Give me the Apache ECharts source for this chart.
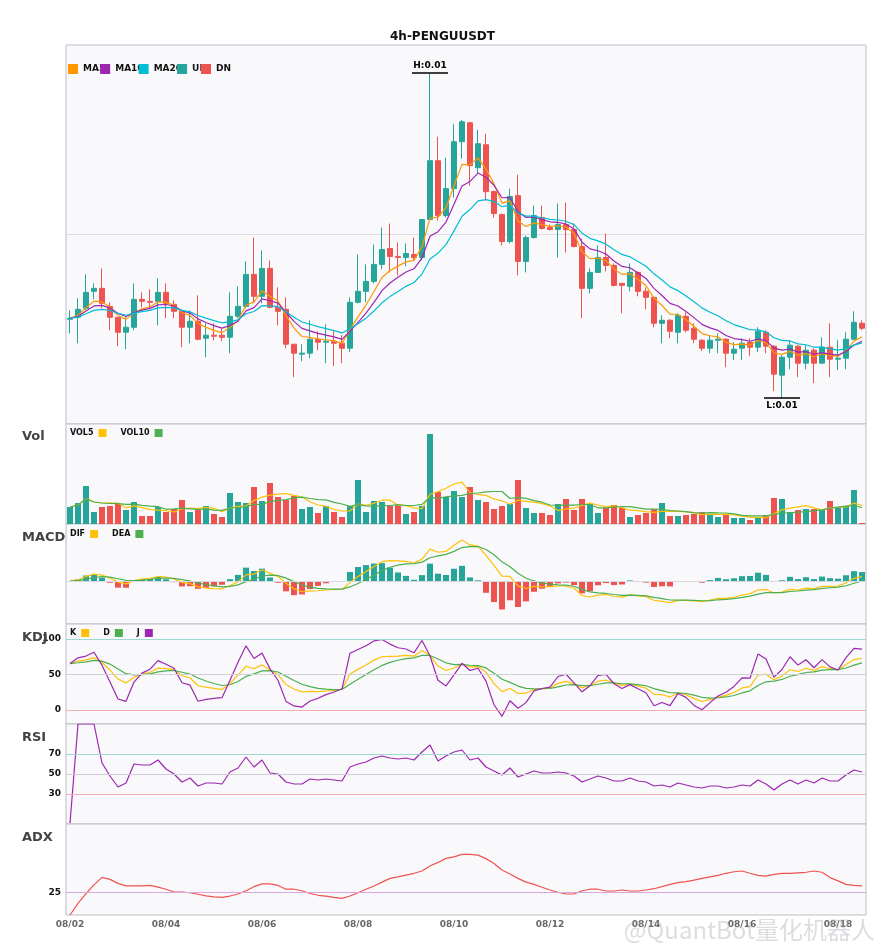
<!DOCTYPE html>
<html>
<head>
<meta charset="utf-8">
<script src="https://cdn.jsdelivr.net/npm/echarts@6/dist/echarts.min.js"></script>
<style>
  html, body { margin: 0; padding: 0; background: #fff; }
  #main { width: 885px; height: 950px; }
</style>
</head>
<body>
<div id="main"></div>
<script>
/* 4h PENGUUSDT — candles + Vol / MACD / KDJ / RSI / ADX panels */
var opens = [105,107,116,133,136,118,107,92,97,125, 123,123,132,120,113,97,103,86,89,89,
  87,108,118,150,128,156,117,115,80,70, 71,85,82,83,81,76,122,133,143,160,
  176,168,167,170,167,205,264,209,236,283, 302,257,280,233,210,183,229,163,187,207,
  197,195,200,195,178,136,152,167,159,141, 138,152,133,127,101,104,92,108,96,84,
  76,84,85,71,76,82,77,92,78,49, 67,78,61,74,61,77,65,66,85,101];
var closes = [106,115,132,136,121,107,92,97,125,123, 122,132,121,113,97,103,85,89,88,87,
  108,118,150,128,156,117,113,80,71,71, 85,82,83,81,76,122,133,143,160,175,
  168,167,171,167,205,264,209,236,283,303, 259,281,233,211,183,228,163,187,209,196,
  195,200,195,178,136,152,167,159,139,139, 152,133,127,101,104,93,109,94,85,76,
  84,85,71,75,81,77,93,78,50,67, 79,61,74,61,77,65,66,85,102,96];
var highs = [114,126,150,141,156,122,107,107,141,132, 135,146,141,124,114,114,129,101,101,96,
  132,138,163,187,174,164,137,127,80,80, 104,93,100,93,89,127,170,160,180,197,
  201,182,181,187,205,352,288,267,301,305, 303,295,291,234,211,236,250,189,219,219,
  200,221,222,201,186,156,179,191,161,141, 161,153,137,128,109,105,111,112,101,85,
  89,91,86,82,86,86,97,94,79,69, 84,79,79,76,87,101,84,92,113,104];
var lows = [91,81,114,125,116,94,78,75,94,117, 115,99,106,106,77,81,84,67,84,83,
  71,106,116,121,121,116,99,76,47,63, 66,74,61,58,61,72,121,122,141,155,
  152,149,158,164,164,204,204,207,227,266, 239,251,224,207,179,181,149,152,186,195,
  194,167,172,177,106,131,152,153,138,111, 133,128,115,97,81,86,81,92,81,73,
  71,71,57,64,64,68,72,71,33,26, 55,47,55,41,61,47,54,55,84,94];
var volumes = [17,21,38,12,17,18,20,14,22,8, 8,17,12,15,24,12,14,18,10,7,
  31,22,21,37,23,41,27,24,28,15, 17,11,18,12,7,18,44,12,23,22,
  18,19,10,12,18,90,32,27,33,27, 37,24,22,15,18,20,44,16,11,11,
  9,20,25,14,25,20,11,16,19,16, 7,9,11,15,21,8,8,9,10,12,
  10,7,10,6,6,4,7,9,26,25, 12,14,15,15,14,23,16,18,34,1];
var rsi = [1,100,100,100,61,48,37,41,60,59, 59,64,55,50,42,46,38,41,41,40,
  52,56,67,57,64,51,50,42,40,40, 45,44,45,44,43,57,60,62,66,68,
  66,65,66,64,72,79,63,68,72,74, 64,66,57,53,49,56,47,50,53,51,
  51,52,51,48,42,45,48,46,43,43, 46,43,42,38,39,37,41,39,37,36,
  38,38,36,37,39,38,44,40,34,40, 44,40,44,41,46,43,43,49,54,52];
var adx = [16,20.6,24.5,27.9,30.9,30.1,28.5,27.5,27.5,27.5, 27.7,27,26.2,25.1,25.1,24.8,24.2,23.6,23.2,23,
  23.5,24.3,25.6,27.2,28.3,28.3,27.7,26.2,26.2,25.6, 24.5,23.8,23.5,23,22.6,23.5,24.8,26.2,27.5,29,
  30.5,31.1,31.8,32.5,33.4,35.4,36.8,38.4,39,40, 40,39.7,38.3,36.4,33.8,32.2,30.5,29,28.1,27,
  25.9,25,24.3,24.3,25.6,26.2,26.2,25.5,25.5,25.9, 25.5,25.5,25.9,26.4,27.2,28.1,28.8,29.2,29.8,30.5,
  31.1,31.7,32.5,33.1,33.4,32.5,31.7,31.4,32.1,32.5, 32.5,32.7,32.9,33.4,32.9,30.8,29.5,28.1,27.7,27.5];

var UP = '#26a69a', DN = '#ef5350';
var FONT = 'DejaVu Sans';

// 4h bars starting 2025-08-02 00:00
var dates = [];
for (var i = 0; i < closes.length; i++) {
  var d = new Date(Date.UTC(2025, 7, 2, i * 4));
  dates.push(('0' + (d.getUTCMonth() + 1)).slice(-2) + '/' + ('0' + d.getUTCDate()).slice(-2) + ' ' + ('0' + d.getUTCHours()).slice(-2) + ':00');
}

function ma(arr, n) {
  return arr.map(function (v, i) {
    var s = 0, c = 0;
    for (var j = Math.max(0, i - n + 1); j <= i; j++) { s += arr[j]; c++; }
    return +(s / c).toFixed(2);
  });
}
function ema(arr, n) {
  var k = 2 / (n + 1), out = [], prev = arr[0];
  arr.forEach(function (v, i) { prev = i === 0 ? v : v * k + prev * (1 - k); out.push(prev); });
  return out;
}

var dif = (function () { var a = ema(closes, 6), b = ema(closes, 13); return a.map(function (v, i) { return v - b[i]; }); })();
var dea = ema(dif, 5);
var hist = dif.map(function (v, i) { return 2 * (v - dea[i]); });

var K = [], D = [], J = [];
closes.forEach(function (c, i) {
  var hh = -Infinity, ll = Infinity;
  for (var j = Math.max(0, i - 8); j <= i; j++) { hh = Math.max(hh, highs[j]); ll = Math.min(ll, lows[j]); }
  var rsv = hh === ll ? 50 : (c - ll) / (hh - ll) * 100;
  var k = i === 0 ? rsv : K[i - 1] * 2 / 3 + rsv / 3;
  var dd = i === 0 ? rsv : D[i - 1] * 2 / 3 + k / 3;
  K.push(k); D.push(dd); J.push(3 * k - 2 * dd);
});

var candle = closes.map(function (c, i) { return [opens[i], c, lows[i], highs[i]]; });
var volBars = volumes.map(function (v, i) { return { value: v, itemStyle: { color: closes[i] >= opens[i] ? UP : DN } }; });
var histBars = hist.map(function (v) { return { value: v, itemStyle: { color: v >= 0 ? UP : DN } }; });

var hiIdx = highs.indexOf(Math.max.apply(null, highs));
var loIdx = lows.indexOf(Math.min.apply(null, lows));
var difMax = Math.max.apply(null, dif);

var L = 66, R = 19;
var grids = [
  { left: L, right: R, top: 45, height: 379 },
  { left: L, right: R, top: 424, height: 100 },
  { left: L, right: R, top: 524, height: 100 },
  { left: L, right: R, top: 624, height: 100 },
  { left: L, right: R, top: 724, height: 100 },
  { left: L, right: R, top: 824, height: 91 }
].map(function (g) { g.show = true; g.backgroundColor = '#f9f9fb'; g.borderColor = '#bdbdc4'; g.borderWidth = 1; return g; });

var xAxes = grids.map(function (g, gi) {
  return {
    type: 'category', gridIndex: gi, data: dates, boundaryGap: true,
    axisLine: { show: false }, axisTick: { show: false }, splitLine: { show: false },
    axisLabel: gi === 5 ? {
      show: true, color: '#666', fontSize: 9, fontWeight: 'bold', fontFamily: FONT, margin: 5,
      interval: function (i) { return i % 12 === 0; },
      formatter: function (v) { return v.slice(0, 5); }
    } : { show: false }
  };
});

function lvlAxis(gi, min, max, vals) {
  return {
    type: 'value', gridIndex: gi, min: min, max: max,
    axisLine: { show: false }, axisTick: { show: false }, splitLine: { show: false },
    axisLabel: vals ? { show: true, customValues: vals, color: '#111', fontSize: 9, fontWeight: 'bold', fontFamily: FONT, margin: 5 } : { show: false }
  };
}
var yAxes = [
  { type: 'value', gridIndex: 0, min: 0, max: 380, interval: 190, axisLine: { show: false }, axisTick: { show: false }, axisLabel: { show: false }, splitLine: { show: true, lineStyle: { color: '#dcdce4' } } },
  lvlAxis(1, 0, 100),
  lvlAxis(2, -difMax * 43 / 41, difMax * 57 / 41),
  lvlAxis(3, -20, 121, [0, 50, 100]),
  lvlAxis(4, 0, 100, [30, 50, 70]),
  lvlAxis(5, 16, 52, [25])
];

function levels(arr) {
  return {
    silent: true, symbol: 'none', label: { show: false },
    data: arr.map(function (a) { return { yAxis: a[0], lineStyle: { color: a[1], type: 'solid', width: 1 } }; })
  };
}
function line(name, data, color, xi, extra) {
  var s = { name: name, type: 'line', data: data, xAxisIndex: xi, yAxisIndex: xi, symbol: 'none', smooth: false,
    lineStyle: { color: color, width: 1.2 }, itemStyle: { color: color }, z: 3 };
  for (var k in extra) s[k] = extra[k];
  return s;
}
var mpLabel = { show: true, color: '#000', fontSize: 9, fontWeight: 'bold', fontFamily: FONT, distance: 2 };

var chart = echarts.init(document.getElementById('main'));
chart.setOption({
  animation: false,
  backgroundColor: '#fff',
  title: [
    { text: '4h-PENGUUSDT', left: 'center', top: 26, textStyle: { fontSize: 12, fontWeight: 'bold', color: '#111', fontFamily: FONT } },
    { text: 'Vol', left: 17, top: 425 },
    { text: 'MACD', left: 17, top: 526 },
    { text: 'KDJ', left: 17, top: 626 },
    { text: 'RSI', left: 17, top: 726 },
    { text: 'ADX', left: 17, top: 826 }
  ].map(function (t, i) { if (i > 0) t.textStyle = { fontSize: 13, fontWeight: 'bold', color: '#444', fontFamily: FONT }; return t; }),
  legend: [
    { data: ['MA5', 'MA10', 'MA20', 'UP', 'DN'], left: 68, top: 64, itemWidth: 10, itemHeight: 10, itemGap: -5, icon: 'rect',
      textStyle: { fontSize: 9, fontWeight: 'bold', color: '#111', fontFamily: FONT, width: 17 }, padding: 0 },
    { data: ['VOL5', 'VOL10'], left: 70, top: 429, align: 'right', itemWidth: 8, itemHeight: 8, itemGap: 14, icon: 'rect',
      textStyle: { fontSize: 8, fontWeight: 'bold', color: '#111', fontFamily: FONT, width: 30 }, padding: 0 },
    { data: ['DIF', 'DEA'], left: 70, top: 530, align: 'right', itemWidth: 8, itemHeight: 8, itemGap: 14, icon: 'rect',
      textStyle: { fontSize: 8, fontWeight: 'bold', color: '#111', fontFamily: FONT, width: 26 }, padding: 0 },
    { data: ['K', 'D', 'J'], left: 70, top: 629, align: 'right', itemWidth: 8, itemHeight: 8, itemGap: 14, icon: 'rect',
      textStyle: { fontSize: 8, fontWeight: 'bold', color: '#111', fontFamily: FONT, width: 16 }, padding: 0 }
  ],
  grid: grids,
  xAxis: xAxes,
  yAxis: yAxes,
  graphic: [{ type: 'text', right: 10, bottom: 8, style: { text: '@QuantBot量化机器人', fontSize: 24, fill: 'rgba(170,170,180,0.4)', fontFamily: 'Noto Sans CJK SC' }, z: 100 }],
  series: [
    {
      name: 'K线', type: 'candlestick', data: candle, xAxisIndex: 0, yAxisIndex: 0, barWidth: '72%',
      itemStyle: { color: UP, color0: DN, borderColor: UP, borderColor0: DN, borderWidth: 1 },
      markPoint: {
        symbol: 'rect', symbolSize: [36, 1.5], itemStyle: { color: '#000' },
        data: [
          { coord: [hiIdx, highs[hiIdx]], label: Object.assign({ position: 'top', formatter: 'H:0.01' }, mpLabel) },
          { coord: [loIdx, lows[loIdx]], label: Object.assign({ position: 'bottom', formatter: 'L:0.01' }, mpLabel) }
        ]
      }
    },
    line('MA5', ema(closes, 5), '#ff9800', 0),
    line('MA10', ema(closes, 8), '#9c27b0', 0),
    line('MA20', ema(closes, 14), '#00bcd4', 0),
    { name: 'UP', type: 'bar', data: [], itemStyle: { color: UP } },
    { name: 'DN', type: 'bar', data: [], itemStyle: { color: DN } },

    { name: 'Vol', type: 'bar', data: volBars, xAxisIndex: 1, yAxisIndex: 1, barWidth: '75%' },
    line('VOL5', ma(volumes, 5), '#ffc107', 1),
    line('VOL10', ma(volumes, 10), '#4caf50', 1),

    { name: 'MACD', type: 'bar', data: histBars, xAxisIndex: 2, yAxisIndex: 2, barWidth: '75%',
      markLine: levels([[0, '#d8d8de']]) },
    line('DIF', dif, '#ffc107', 2),
    line('DEA', dea, '#4caf50', 2),

    line('K', K, '#ffc107', 3, { markLine: levels([[100, '#9fd8d2'], [50, '#cfcfd6'], [0, '#f4b0b0']]) }),
    line('D', D, '#4caf50', 3),
    line('J', J, '#9c27b0', 3),

    line('RSI', rsi, '#9c27b0', 4, { markLine: levels([[70, '#9fd8d2'], [50, '#cfcfd6'], [30, '#f4b0b0']]) }),

    line('ADX', adx, '#ef5350', 5, { markLine: levels([[25, '#dba6e0']]) })
  ]
});
</script>
</body>
</html>
